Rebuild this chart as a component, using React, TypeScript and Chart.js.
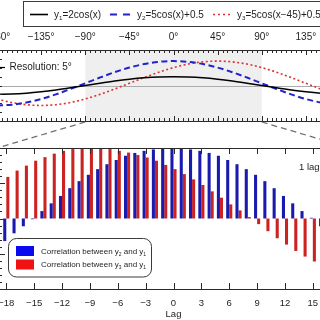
import { useEffect, useRef } from "react";
import { Chart, registerables } from "chart.js";

Chart.register(...registerables);

const FONT = '"Liberation Sans", Arial, Helvetica, sans-serif';
const INK = "#1e1e1e";

// Waveforms, sampled every 15 degrees
const angles = [-180, -165, -150, -135, -120, -105, -90, -75, -60, -45, -30, -15, 0, 15, 30, 45, 60, 75, 90, 105, 120, 135, 150, 165, 180];
const y1Values = [-2, -1.93, -1.73, -1.41, -1, -0.52, 0, 0.52, 1, 1.41, 1.73, 1.93, 2, 1.93, 1.73, 1.41, 1, 0.52, 0, -0.52, -1, -1.41, -1.73, -1.93, -2];
const y2Values = [-4.5, -4.33, -3.83, -3.04, -2, -0.79, 0.5, 1.79, 3, 4.04, 4.83, 5.33, 5.5, 5.33, 4.83, 4.04, 3, 1.79, 0.5, -0.79, -2, -3.04, -3.83, -4.33, -4.5];
const y3Values = [-3.04, -3.83, -4.33, -4.5, -4.33, -3.83, -3.04, -2, -0.79, 0.5, 1.79, 3, 4.04, 4.83, 5.33, 5.5, 5.33, 4.83, 4.04, 3, 1.79, 0.5, -0.79, -2, -3.04];
const angleTicks = [-180, -135, -90, -45, 0, 45, 90, 135, 180];
const correlationWindow = [-90, 90];

// Cross-correlation per lag (1 lag = 5 degrees)
const lags = [-18, -17, -16, -15, -14, -13, -12, -11, -10, -9, -8, -7, -6, -5, -4, -3, -2, -1, 0, 1, 2, 3, 4, 5, 6, 7, 8, 9, 10, 11, 12, 13, 14, 15, 16, 17, 18];
const corrY2Y1 = [-0.32, -0.21, -0.11, -0.01, 0.105, 0.215, 0.32, 0.43, 0.53, 0.62, 0.7, 0.77, 0.83, 0.89, 0.93, 0.96, 0.98, 0.995, 1, 0.995, 0.98, 0.96, 0.93, 0.89, 0.83, 0.77, 0.7, 0.62, 0.53, 0.43, 0.32, 0.215, 0.105, 0.01, -0.11, -0.21, -0.32];
const corrY3Y1 = [0.59, 0.68, 0.75, 0.82, 0.87, 0.92, 0.96, 0.985, 1, 1, 1, 0.985, 0.96, 0.935, 0.9, 0.865, 0.82, 0.76, 0.7, 0.63, 0.555, 0.475, 0.385, 0.295, 0.2, 0.115, 0.02, -0.08, -0.18, -0.28, -0.37, -0.46, -0.54, -0.61, -0.67, -0.72, -0.76];
const lagTicks = [-18, -15, -12, -9, -6, -3, 0, 3, 6, 9, 12, 15, 18];

type Part = [string, boolean];

function richText(ctx: CanvasRenderingContext2D, x: number, y: number, parts: Part[], size: number) {
  let cx = x;
  for (const [t, sub] of parts) {
    const s = sub ? size * 0.62 : size;
    ctx.font = `${s}px ${FONT}`;
    ctx.fillText(t, cx, sub ? y + size * 0.22 : y);
    cx += ctx.measureText(t).width;
  }
}

const minus = (v: number) => (v < 0 ? "\u2212" + Math.abs(v) : String(v));

type TickSpec = { v: number; len: number };

function frame(chart: any, xTicks: TickSpec[], yTicks: TickSpec[]) {
  const { ctx, chartArea: a, scales } = chart;
  ctx.save();
  ctx.strokeStyle = "#2a2a2a";
  ctx.lineWidth = 1;
  ctx.setLineDash([]);
  ctx.beginPath();
  for (const t of xTicks) {
    const x = Math.round(scales.x.getPixelForValue(t.v)) + 0.5;
    ctx.moveTo(x, a.top);
    ctx.lineTo(x, a.top + t.len);
    ctx.moveTo(x, a.bottom);
    ctx.lineTo(x, a.bottom - t.len);
  }
  for (const t of yTicks) {
    const y = Math.round(scales.y.getPixelForValue(t.v)) + 0.5;
    ctx.moveTo(a.left, y);
    ctx.lineTo(a.left + t.len, y);
    ctx.moveTo(a.right, y);
    ctx.lineTo(a.right - t.len, y);
  }
  ctx.stroke();
  ctx.strokeRect(a.left + 0.5, a.top + 0.5, a.right - a.left - 1, a.bottom - a.top);
  ctx.restore();
}

function topConfig(): any {
  const xTicks: TickSpec[] = [];
  for (let a = -180; a <= 180; a += 5) xTicks.push({ v: a, len: a % 45 === 0 ? 5 : 3 });
  const yTicks: TickSpec[] = [];
  for (let v = -8; v <= 8; v += 2) yTicks.push({ v, len: 5 });

  const decor = {
    id: "waveDecor",
    beforeDatasetsDraw(chart: any) {
      const { ctx, chartArea: a, scales } = chart;
      const xl = scales.x.getPixelForValue(correlationWindow[0]);
      const xr = scales.x.getPixelForValue(correlationWindow[1]);
      ctx.save();
      ctx.fillStyle = "#efefef";
      ctx.fillRect(xl, a.top, xr - xl, a.bottom - a.top);
      const y0 = Math.round(scales.y.getPixelForValue(0)) + 0.5;
      ctx.strokeStyle = "#ababab";
      ctx.lineWidth = 1;
      ctx.beginPath();
      ctx.moveTo(a.left, y0);
      ctx.lineTo(a.right, y0);
      ctx.stroke();
      ctx.restore();
    },
    afterDraw(chart: any) {
      const { ctx, chartArea: a, scales } = chart;
      frame(chart, xTicks, yTicks);
      ctx.save();
      // zoom connectors down to the correlation panel
      const xl = scales.x.getPixelForValue(correlationWindow[0]);
      const xr = scales.x.getPixelForValue(correlationWindow[1]);
      ctx.strokeStyle = "#707070";
      ctx.lineWidth = 1.3;
      ctx.setLineDash([6, 4]);
      ctx.beginPath();
      ctx.moveTo(xl, a.bottom + 1);
      ctx.lineTo(a.left, a.bottom + 27);
      ctx.moveTo(xr, a.bottom + 1);
      ctx.lineTo(a.right, a.bottom + 27);
      ctx.stroke();

      // series legend
      ctx.setLineDash([]);
      ctx.fillStyle = "#fff";
      ctx.fillRect(47, 1, 400, 25);
      ctx.strokeStyle = "#3a3a3a";
      ctx.lineWidth = 1;
      ctx.strokeRect(47.5, 1.5, 400, 25);
      const ly = 14.5;
      ctx.lineWidth = 1.6;
      ctx.strokeStyle = "#000";
      ctx.beginPath();
      ctx.moveTo(54, ly);
      ctx.lineTo(72, ly);
      ctx.stroke();
      ctx.strokeStyle = "#2222cc";
      ctx.lineWidth = 2;
      ctx.setLineDash([7, 6]);
      ctx.beginPath();
      ctx.moveTo(134, ly);
      ctx.lineTo(154, ly);
      ctx.stroke();
      ctx.strokeStyle = "#e03030";
      ctx.lineWidth = 1.6;
      ctx.setLineDash([2, 3]);
      ctx.beginPath();
      ctx.moveTo(237, ly);
      ctx.lineTo(257, ly);
      ctx.stroke();
      ctx.setLineDash([]);
      ctx.fillStyle = INK;
      ctx.textBaseline = "alphabetic";
      richText(ctx, 78, ly + 3.5, [["y", false], ["1", true], ["=2cos(x)", false]], 10);
      richText(ctx, 161, ly + 3.5, [["y", false], ["2", true], ["=5cos(x)+0.5", false]], 10);
      richText(ctx, 261, ly + 3.5, [["y", false], ["3", true], ["=5cos(x\u221245)+0.5", false]], 10);

      // sampling note
      ctx.strokeStyle = "#000";
      ctx.lineWidth = 1.2;
      ctx.beginPath();
      ctx.moveTo(14, 67.5);
      ctx.lineTo(29, 67.5);
      ctx.stroke();
      ctx.font = `10px ${FONT}`;
      ctx.textBaseline = "middle";
      ctx.fillText("Resolution: 5\u00b0", 33.5, 67.5);
      ctx.restore();
    },
  };

  const pts = (ys: number[]) => angles.map((a, i) => ({ x: a, y: ys[i] }));

  return {
    type: "line",
    data: {
      datasets: [
        { label: "y1", data: pts(y1Values), borderColor: "#000", borderWidth: 1.5, pointRadius: 0, cubicInterpolationMode: "monotone" },
        { label: "y2", data: pts(y2Values), borderColor: "#2222cc", borderWidth: 2, borderDash: [6, 3.5], pointRadius: 0, cubicInterpolationMode: "monotone" },
        { label: "y3", data: pts(y3Values), borderColor: "#e03030", borderWidth: 1.6, borderDash: [2, 2.5], pointRadius: 0, cubicInterpolationMode: "monotone" },
      ],
    },
    options: {
      responsive: false,
      animation: false,
      devicePixelRatio: 1,
      layout: { padding: { left: 21, right: 26, top: 0, bottom: 39 } },
      plugins: { legend: { display: false }, tooltip: { enabled: false } },
      scales: {
        x: {
          type: "linear",
          position: "top",
          min: -180,
          max: 180,
          afterBuildTicks: (s: any) => {
            s.ticks = angleTicks.map((v) => ({ value: v }));
          },
          afterFit: (s: any) => {
            s.height = 50;
          },
          grid: { display: false, drawTicks: false },
          border: { display: false },
          ticks: {
            autoSkip: false,
            maxRotation: 0,
            padding: 7,
            color: INK,
            font: { family: FONT, size: 10 },
            callback: (v: number) => minus(v) + "\u00b0",
          },
        },
        y: { min: -8, max: 8, display: false },
      },
    },
    plugins: [decor],
  };
}

function bottomConfig(): any {
  const xTicks: TickSpec[] = lagTicks.map((v) => ({ v, len: 6 }));
  const yTicks: TickSpec[] = [];
  for (let k = -10; k <= 10; k++) yTicks.push({ v: k / 10, len: k % 5 === 0 ? 8 : 5 });

  const decor = {
    id: "corrDecor",
    afterDraw(chart: any) {
      const { ctx } = chart;
      frame(chart, xTicks, yTicks);
      ctx.save();
      // legend box
      const bx = 32.5, by = 108.5, bw = 143, bh = 38.5, r = 8;
      ctx.fillStyle = "#fff";
      ctx.strokeStyle = "#3a3a3a";
      ctx.lineWidth = 1;
      ctx.beginPath();
      ctx.roundRect(bx, by, bw, bh, r);
      ctx.fill();
      ctx.stroke();
      ctx.fillStyle = "#0a0af0";
      ctx.fillRect(40, 116, 18, 10);
      ctx.fillStyle = "#f01212";
      ctx.fillRect(40, 129.5, 18, 10);
      ctx.fillStyle = INK;
      ctx.textBaseline = "alphabetic";
      richText(ctx, 65, 123.8, [["Correlation between y", false], ["2", true], [" and y", false], ["1", true]], 8);
      richText(ctx, 65, 137.3, [["Correlation between y", false], ["3", true], [" and y", false], ["1", true]], 8);
      ctx.font = `9.5px ${FONT}`;
      ctx.textBaseline = "middle";
      ctx.fillText("1 lag = 5\u00b0", 323, 37);
      ctx.restore();
    },
  };

  return {
    type: "bar",
    data: {
      datasets: [
        { label: "Correlation between y2 and y1", data: lags.map((l, i) => ({ x: l, y: corrY2Y1[i] })), backgroundColor: "#1a1aae", borderWidth: 0 },
        { label: "Correlation between y3 and y1", data: lags.map((l, i) => ({ x: l, y: corrY3Y1[i] })), backgroundColor: "#cc2222", borderWidth: 0 },
      ],
    },
    options: {
      responsive: false,
      animation: false,
      devicePixelRatio: 1,
      layout: { padding: { left: 21, right: 26, top: 18, bottom: 0 } },
      datasets: { bar: { categoryPercentage: 0.66, barPercentage: 1 } },
      plugins: { legend: { display: false }, tooltip: { enabled: false } },
      scales: {
        x: {
          type: "linear",
          offset: false,
          min: -19,
          max: 19,
          afterBuildTicks: (s: any) => {
            s.ticks = lagTicks.map((v) => ({ value: v }));
          },
          afterFit: (s: any) => {
            s.height = 31;
          },
          grid: { display: false, drawTicks: false },
          border: { display: false },
          ticks: {
            autoSkip: false,
            maxRotation: 0,
            padding: 9,
            color: INK,
            font: { family: FONT, size: 9.5 },
            callback: (v: number) => minus(v),
          },
          title: { display: true, text: "Lag", color: INK, font: { family: FONT, size: 9.5 }, padding: { top: 0, bottom: 0 } },
        },
        y: { min: -1, max: 1, display: false },
      },
    },
    plugins: [decor],
  };
}

export default function App() {
  const topRef = useRef<HTMLCanvasElement>(null);
  const botRef = useRef<HTMLCanvasElement>(null);

  useEffect(() => {
    const top = new Chart(topRef.current as HTMLCanvasElement, topConfig());
    const bottom = new Chart(botRef.current as HTMLCanvasElement, bottomConfig());
    return () => {
      top.destroy();
      bottom.destroy();
    };
  }, []);

  return (
    <div style={{ position: "fixed", left: 0, top: 0, width: 320, height: 320, overflow: "hidden", background: "#fff" }}>
      <canvas ref={topRef} width={400} height={160} style={{ position: "absolute", left: -24, top: 0, width: 400, height: 160 }} />
      <canvas ref={botRef} width={400} height={190} style={{ position: "absolute", left: -24, top: 130, width: 400, height: 190 }} />
    </div>
  );
}
